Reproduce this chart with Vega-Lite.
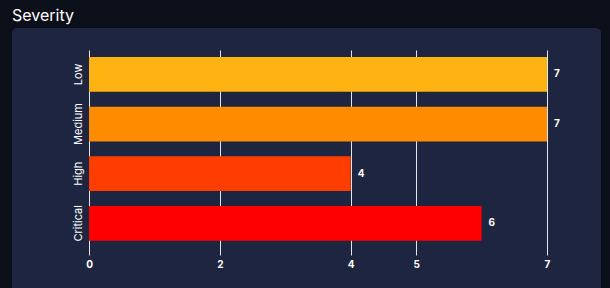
{
  "$schema": "https://vega.github.io/schema/vega-lite/v6.json",
  "width": 589,
  "height": 272,
  "autosize": "none",
  "padding": {"left": 12, "top": 28, "right": 9, "bottom": -12},
  "background": "#0b0f1a",
  "title": {"text": "Severity", "anchor": "start", "frame": "group", "fontSize": 16, "font": "Inter", "fontWeight": "normal", "color": "#ffffff", "offset": 4},
  "config": {
    "view": {"fill": "#1e2540", "stroke": null, "cornerRadius": 5},
    "font": "Inter"
  },
  "data": {"values": [
    {"severity": "Low", "count": 7},
    {"severity": "Medium", "count": 7},
    {"severity": "High", "count": 4},
    {"severity": "Critical", "count": 6}
  ]},
  "encoding": {
    "y": {
      "field": "severity", "type": "nominal",
      "sort": ["Low", "Medium", "High", "Critical"],
      "scale": {"range": [21.5, 220.2], "paddingInner": 0.3, "paddingOuter": 0.15},
      "axis": {"orient": "left", "offset": -77, "domain": false, "ticks": false, "grid": false, "labelAngle": -90, "labelColor": "#ffffff", "labelFontSize": 11, "labelPadding": 6, "title": null}
    },
    "x": {
      "field": "count", "type": "quantitative",
      "scale": {"domain": [0, 7], "range": [77, 535], "nice": false},
      "axis": {"orient": "bottom", "offset": -45, "domain": false, "grid": false, "values": [0, 2, 4, 5, 7], "tickSize": -205, "tickColor": "#e6e6e6", "tickWidth": 1, "labelColor": "#ffffff", "labelFontSize": 10, "labelFontWeight": "bold", "labelPadding": 209, "labelFlush": false, "labelBound": false, "title": null}
    }
  },
  "layer": [
    {
      "mark": {"type": "bar"},
      "encoding": {
        "color": {"field": "severity", "type": "nominal",
          "scale": {"domain": ["Low", "Medium", "High", "Critical"], "range": ["#ffb313", "#ff8c00", "#ff3d00", "#ff0000"]},
          "legend": null}
      }
    },
    {
      "mark": {"type": "text", "align": "left", "dx": 7, "fontWeight": "bold", "fontSize": 10, "color": "#ffffff"},
      "encoding": {"text": {"field": "count", "type": "quantitative"}}
    }
  ]
}
